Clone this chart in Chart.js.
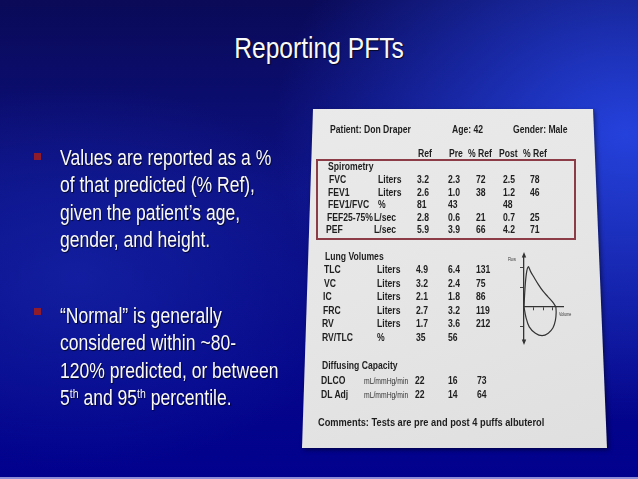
<!DOCTYPE html>
<html lang="en">
<head>
<meta charset="UTF-8">
<title>Reporting PFTs</title>
<script src="https://cdn.jsdelivr.net/npm/chart.js@4.4.0/dist/chart.umd.min.js"></script>
<style>
  html, body { margin: 0; padding: 0; }
  body {
    width: 638px; height: 479px; overflow: hidden; position: relative;
    font-family: "Liberation Sans", Arial, sans-serif;
    background:
      radial-gradient(ellipse 55% 60% at 98% 28%, rgba(38,68,225,0.95), rgba(38,68,225,0) 100%),
      radial-gradient(ellipse 45% 40% at 12% 58%, rgba(22,38,170,0.7), rgba(22,38,170,0) 100%),
      linear-gradient(180deg, #0a0a58 0%, #0c1082 40%, #01018e 100%);
  }
  #bottomLine { position: absolute; left: 0; top: 477px; width: 638px; height: 2px; background: #8c8cd8; }
  .t { position: absolute; white-space: nowrap; line-height: 1; transform-origin: left center; transform: scaleX(0.82); }
  .w { color: #fafafa; text-shadow: 1px 1px 1px rgba(0,0,0,0.7); }
  .p { color: #1e1e1e; font-weight: bold; }
  .r { color: #333; font-weight: normal; }
  sup { font-size: 60%; vertical-align: 0.55em; line-height: 0; }
  .bullet { position: absolute; width: 7px; height: 7px; background: #8e1c2a; }
  #paperWrap { position: absolute; left: 0; top: 0; width: 638px; height: 479px; filter: drop-shadow(2px 2px 2px rgba(0,0,0,0.45)); }
  #paper {
    position: absolute; left: 0; top: 0; width: 638px; height: 479px;
    clip-path: polygon(313px 109px, 593px 109px, 607px 448px, 302px 448px);
    background: linear-gradient(160deg, #eeeeee 0%, #e6e6e6 60%, #dedede 100%);
  }
  #spiroBox { position: absolute; left: 316px; top: 159px; width: 256px; height: 77px; border: 2px solid #8c3c46; }
  #loopCanvas { position: absolute; left: 518px; top: 251px; }
</style>
</head>
<body>
<div id="paperWrap"><div id="paper"></div></div>
<div id="spiroBox"></div>
<canvas id="loopCanvas" width="48" height="95"></canvas>
<div id="bottomLine"></div>

<script>
// spirometry table
var spiroNames = ['FVC', 'FEV1', 'FEV1/FVC', 'FEF25-75%', 'PEF'];
var spiroUnits = ['Liters', 'Liters', '%', 'L/sec', 'L/sec'];
var spiroRef = ['3.2', '2.6', '81', '2.8', '5.9'];
var spiroPre = ['2.3', '1.0', '43', '0.6', '3.9'];
var spiroPreRef = ['72', '38', '', '21', '66'];
var spiroPost = ['2.5', '1.2', '48', '0.7', '4.2'];
var spiroPostRef = ['78', '46', '', '25', '71'];

// lung volumes table
var lungNames = ['TLC', 'VC', 'IC', 'FRC', 'RV', 'RV/TLC'];
var lungUnits = ['Liters', 'Liters', 'Liters', 'Liters', 'Liters', '%'];
var lungRef = ['4.9', '3.2', '2.1', '2.7', '1.7', '35'];
var lungPre = ['6.4', '2.4', '1.8', '3.2', '3.6', '56'];
var lungPreRef = ['131', '75', '86', '119', '212', ''];

// diffusing capacity table
var diffNames = ['DLCO', 'DL Adj'];
var diffUnits = ['mL/mmHg/min', 'mL/mmHg/min'];
var diffRef = ['22', '22'];
var diffPre = ['16', '14'];
var diffPreRef = ['73', '64'];

// flow-volume loop (volume in L, flow in L/s)
var expVolume = [0, 0.1, 0.25, 0.45, 0.7, 1.0, 1.5, 2.0, 2.5, 3.0, 3.35];
var expFlow = [0, 1.8, 3.4, 4.1, 3.6, 3.1, 2.3, 1.6, 1.05, 0.5, 0];
var inspVolume = [3.35, 3.38, 3.3, 3.05, 2.55, 1.9, 1.2, 0.55, 0.2, 0];
var inspFlow = [0, -0.6, -1.4, -2.15, -2.7, -2.95, -2.7, -2.05, -1.05, 0];
var volumeTicks = [1, 2, 3];
var flowTicks = [-2, 2, 4];

function put(txt, x, base, size, cls) {
    var el = document.createElement('div');
    el.className = 't ' + cls;
    el.innerHTML = txt;
    el.style.left = x + 'px';
    el.style.top = (base - 0.8465 * size) + 'px';
    el.style.fontSize = size + 'px';
    document.body.appendChild(el);
    return el;
}

// slide text
var title = put('Reporting PFTs', 319, 58, 30, 'w');
title.style.transformOrigin = 'center center';
title.style.transform = 'translateX(-50%) scaleX(0.82)';

var bulletLines1 = ['Values are reported as a %', 'of that predicted (% Ref),', 'given the patient\u2019s age,', 'gender, and height.'];
var bulletLines2 = ['\u201cNormal\u201d is generally', 'considered within ~80-', '120% predicted, or between', '5<sup>th</sup> and 95<sup>th</sup> percentile.'];
bulletLines1.forEach(function (s, i) { put(s, 60, 166 + i * 27.4, 21.4, 'w'); });
bulletLines2.forEach(function (s, i) { put(s, 60, 324 + i * 27.4, 21.4, 'w'); });
[153, 308].forEach(function (y) {
    var b = document.createElement('div');
    b.className = 'bullet';
    b.style.left = '34px';
    b.style.top = y + 'px';
    document.body.appendChild(b);
});

// report sheet
put('Patient: Don Draper', 330, 133, 10.5, 'p');
put('Age: 42', 452, 133, 10.5, 'p');
put('Gender: Male', 513, 133, 10.5, 'p');
put('Ref', 418, 157, 10.5, 'p');
put('Pre', 449, 157, 10.5, 'p');
put('% Ref', 468, 157, 10.5, 'p');
put('Post', 499, 157, 10.5, 'p');
put('% Ref', 523, 157, 10.5, 'p');

put('Spirometry', 328, 170, 10.5, 'p');
spiroNames.forEach(function (n, i) {
    var y = 183 + i * 12.5;
    put(n, 329 - i * 0.7, y, 10.5, 'p');
    put(spiroUnits[i], spiroUnits[i] == 'L/sec' ? 374 : 378, y, 10.5, 'p');
    put(spiroRef[i], 417, y, 10.5, 'p');
    put(spiroPre[i], 448, y, 10.5, 'p');
    put(spiroPreRef[i], 476, y, 10.5, 'p');
    put(spiroPost[i], 503, y, 10.5, 'p');
    put(spiroPostRef[i], 530, y, 10.5, 'p');
});

put('Lung Volumes', 325, 260, 10.5, 'p');
lungNames.forEach(function (n, i) {
    var y = 273 + i * 13.5;
    put(n, 324 - i * 0.4, y, 10.5, 'p');
    put(lungUnits[i], 377, y, 10.5, 'p');
    put(lungRef[i], 416, y, 10.5, 'p');
    put(lungPre[i], 448, y, 10.5, 'p');
    put(lungPreRef[i], 476, y, 10.5, 'p');
});

put('Diffusing Capacity', 322, 369, 10.5, 'p');
diffNames.forEach(function (n, i) {
    var y = 384 + i * 14;
    put(n, 321, y, 10.5, 'p');
    put(diffUnits[i], 364, y, 8.3, 'r');
    put(diffRef[i], 415, y, 10.5, 'p');
    put(diffPre[i], 448, y, 10.5, 'p');
    put(diffPreRef[i], 477, y, 10.5, 'p');
});

put('Comments: Tests are pre and post 4 puffs albuterol', 318, 427, 11.3, 'p');

// axis labels of the loop
put('Flow', 508, 262, 4.5, 'r');
put('Volume', 559, 317, 4.5, 'r');

// arrows on the flow axis
var axisArrows = {
    id: 'axisArrows',
    afterDraw: function (chart) {
        var ctx = chart.ctx;
        var x0 = chart.scales.x.getPixelForValue(0);
        var top = chart.scales.y.top, bottom = chart.scales.y.bottom;
        ctx.save();
        ctx.fillStyle = '#333';
        ctx.beginPath();
        ctx.moveTo(x0, top - 4); ctx.lineTo(x0 - 2.2, top + 1.5); ctx.lineTo(x0 + 2.2, top + 1.5);
        ctx.closePath(); ctx.fill();
        ctx.beginPath();
        ctx.moveTo(x0, bottom + 4); ctx.lineTo(x0 - 2.2, bottom - 1.5); ctx.lineTo(x0 + 2.2, bottom - 1.5);
        ctx.closePath(); ctx.fill();
        ctx.restore();
    }
};

function pts(xs, ys) {
    return xs.map(function (v, i) { return { x: v, y: ys[i] }; });
}

var lineStyle = { showLine: true, borderColor: '#333', borderWidth: 1.2, pointRadius: 0, tension: 0.35, clip: false, fill: false };

new Chart(document.getElementById('loopCanvas').getContext('2d'), {
    type: 'scatter',
    data: {
        datasets: [
            Object.assign({ data: pts(expVolume, expFlow) }, lineStyle),
            Object.assign({ data: pts(inspVolume, inspFlow) }, lineStyle)
        ]
    },
    options: {
        responsive: false,
        animation: false,
        layout: { padding: { left: 6, right: 3, top: 5, bottom: 5 } },
        plugins: { legend: { display: false }, tooltip: { enabled: false } },
        scales: {
            x: {
                type: 'linear', min: 0, max: 4.1, position: { y: 0 },
                afterBuildTicks: function (s) { s.ticks = volumeTicks.map(function (v) { return { value: v }; }); },
                ticks: { display: false },
                grid: { drawOnChartArea: false, tickLength: 3, color: '#444' },
                border: { color: '#333', width: 1.3 }
            },
            y: {
                type: 'linear', min: -3.5, max: 5.2, position: { x: 0 },
                afterBuildTicks: function (s) { s.ticks = flowTicks.map(function (v) { return { value: v }; }); },
                ticks: { display: false },
                grid: { drawOnChartArea: false, tickLength: 3, color: '#444' },
                border: { color: '#333', width: 1.3 }
            }
        }
    },
    plugins: [axisArrows]
});
</script>
</body>
</html>
